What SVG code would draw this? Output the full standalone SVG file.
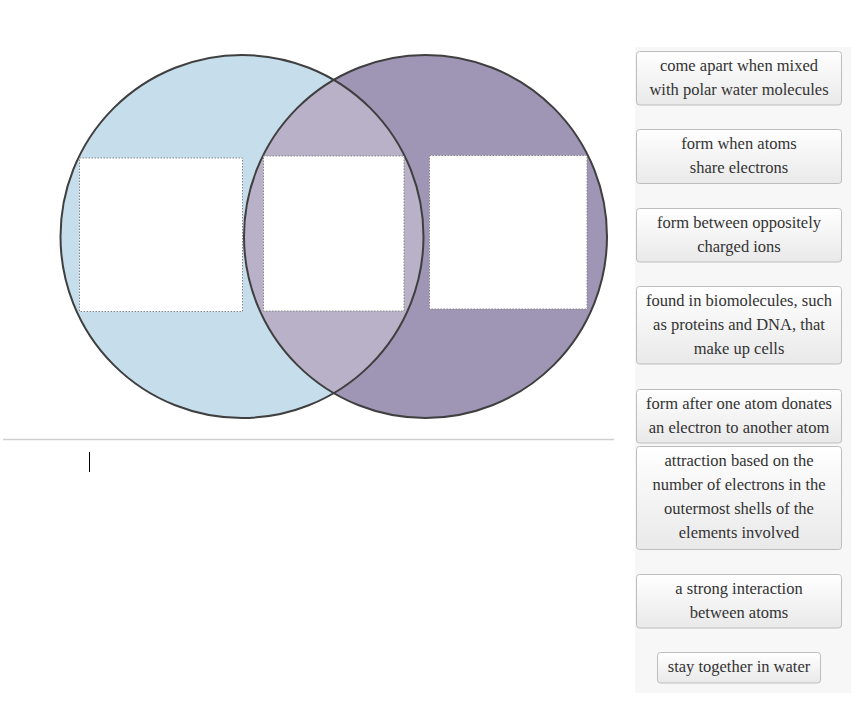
<svg xmlns="http://www.w3.org/2000/svg" width="862" height="721" viewBox="0 0 862 721">
<defs>
<linearGradient id="btn" x1="0" y1="0" x2="0" y2="1">
<stop offset="0" stop-color="#ffffff"/>
<stop offset="1" stop-color="#e9e9e9"/>
</linearGradient>
<clipPath id="leftClip"><circle cx="242" cy="236.5" r="181.5"/></clipPath>
</defs>
<style>
.btn{fill:url(#btn);stroke:#bdbdbd;stroke-width:1}
.t{font-family:"Liberation Serif","DejaVu Serif",serif;font-size:16.5px;fill:#333;text-anchor:middle}
.drop{fill:#fff;stroke:#888;stroke-width:1;stroke-dasharray:1.5 1.5}
.ring{fill:none;stroke:#3f3f3f;stroke-width:2}
</style>
<rect width="862" height="721" fill="#fff"/>
<g id="venn">
<circle cx="242" cy="236.5" r="181.5" fill="#c6deeb"/>
<circle cx="425.5" cy="236.5" r="181.5" fill="#9f95b5"/>
<circle cx="425.5" cy="236.5" r="181.5" fill="#b9b1c7" clip-path="url(#leftClip)"/>
<circle class="ring" cx="242" cy="236.5" r="181.5"/>
<circle class="ring" cx="425.5" cy="236.5" r="181.5"/>
</g>
<g id="drop1"><rect class="drop" x="79.5" y="158" width="163" height="153.5"/></g>
<g id="drop2"><rect class="drop" x="263.5" y="156" width="140.5" height="155"/></g>
<g id="drop3"><rect class="drop" x="429.5" y="155.5" width="157.5" height="153.5"/></g>
<line x1="3" y1="439.5" x2="614" y2="439.5" stroke="#d0d0d0" stroke-width="1.5"/>
<line x1="89.5" y1="452" x2="89.5" y2="472" stroke="#000" stroke-width="1"/>
<rect id="panel" x="635" y="47" width="216" height="646" fill="#f7f7f7"/>
<g id="b1"><rect class="btn" x="636.5" y="51.5" width="205" height="53.5" rx="3"/>
<text class="t" x="739" y="71">come apart when mixed</text><text class="t" x="739" y="95">with polar water molecules</text></g>
<g id="b2"><rect class="btn" x="636.5" y="129.5" width="205" height="54" rx="3"/>
<text class="t" x="739" y="149">form when atoms</text><text class="t" x="739" y="173">share electrons</text></g>
<g id="b3"><rect class="btn" x="636.5" y="208.5" width="205" height="53.5" rx="3"/>
<text class="t" x="739" y="228">form between oppositely</text><text class="t" x="739" y="252">charged ions</text></g>
<g id="b4"><rect class="btn" x="636.5" y="286.5" width="205" height="77.5" rx="3"/>
<text class="t" x="739" y="306">found in biomolecules, such</text><text class="t" x="739" y="330">as proteins and DNA, that</text><text class="t" x="739" y="354">make up cells</text></g>
<g id="b5"><rect class="btn" x="636.5" y="389.5" width="205" height="53.5" rx="3"/>
<text class="t" x="739" y="409">form after one atom donates</text><text class="t" x="739" y="433">an electron to another atom</text></g>
<g id="b6"><rect class="btn" x="636.5" y="446.5" width="205" height="103" rx="3"/>
<text class="t" x="739" y="466">attraction based on the</text><text class="t" x="739" y="490">number of electrons in the</text><text class="t" x="739" y="514">outermost shells of the</text><text class="t" x="739" y="538">elements involved</text></g>
<g id="b7"><rect class="btn" x="636.5" y="574.5" width="205" height="53.5" rx="3"/>
<text class="t" x="739" y="594">a strong interaction</text><text class="t" x="739" y="618">between atoms</text></g>
<g id="b8"><rect class="btn" x="657.5" y="652.5" width="163" height="30.5" rx="3"/>
<text class="t" x="739" y="672">stay together in water</text></g>
</svg>
